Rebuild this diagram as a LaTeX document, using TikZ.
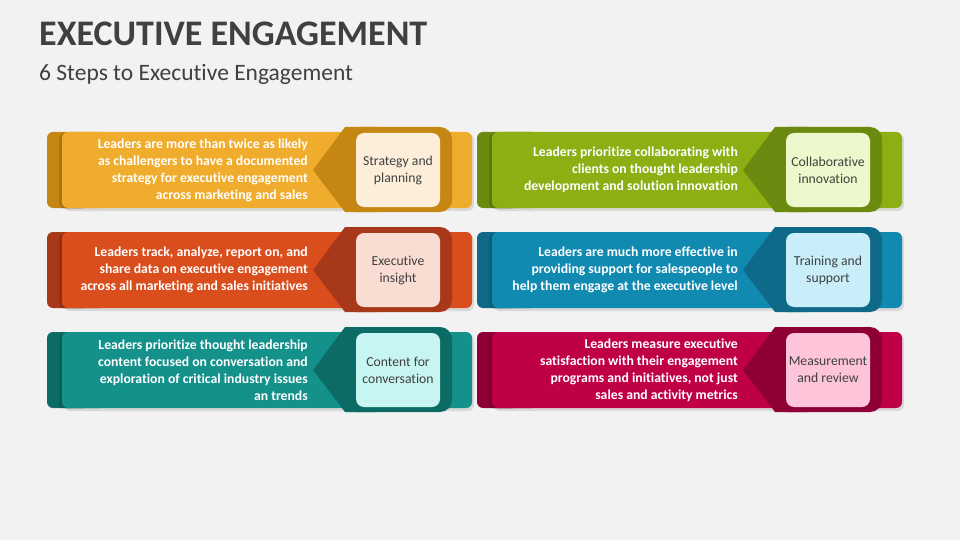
\documentclass[tikz,border=0pt]{standalone}
\usepackage{fontspec}
\setmainfont{Carlito}[RawFeature={-liga}]

\definecolor{pageback}{HTML}{F2F2F2}
\definecolor{titlegray}{HTML}{404040}
\definecolor{orangemain}{HTML}{F0AC2C}
\definecolor{orangedark}{HTML}{C58613}
\definecolor{orangelight}{HTML}{FDEEDA}
\definecolor{greenmain}{HTML}{8CB014}
\definecolor{greendark}{HTML}{6B8A10}
\definecolor{greenlight}{HTML}{EDF8CC}
\definecolor{redmain}{HTML}{DA4D1C}
\definecolor{reddark}{HTML}{A8381A}
\definecolor{redlight}{HTML}{F9DCD2}
\definecolor{bluemain}{HTML}{118AB2}
\definecolor{bluedark}{HTML}{0E6A88}
\definecolor{bluelight}{HTML}{C9EEFA}
\definecolor{tealmain}{HTML}{13918A}
\definecolor{tealdark}{HTML}{0D6B66}
\definecolor{teallight}{HTML}{C7F6F2}
\definecolor{crimsonmain}{HTML}{C00046}
\definecolor{crimsondark}{HTML}{8E0035}
\definecolor{crimsonlight}{HTML}{FDC4DA}

\tikzset{
  desc/.style={anchor=east,align=right,text=white,inner sep=0pt,
    font=\fontsize{13.7}{17}\selectfont\bfseries},
  labelbox/.style={rounded corners=8pt,minimum width=84pt,minimum height=74pt,
    inner sep=0pt,align=center,text=titlegray,font=\fontsize{13.7}{17}\selectfont},
}

% one step: name, x, y, main, dark, light, text, label
\newcommand{\engpanel}[8]{%
\begin{scope}[shift={(#2,#3)}]
% shadow
\fill[black,opacity=0.10,rounded corners=6pt] (17,2) rectangle (427,79);
% back strip and main band
\fill[#5,rounded corners=6pt] (0,0) rectangle (60,76);
\fill[black,opacity=0.12,rounded corners=6pt] (12,1) rectangle (40,77);
\fill[#4,rounded corners=6pt] (15,0) rectangle (425,76);
% dark pointer
\fill[#5,rounded corners=12pt] (298,-5) rectangle (405,80);
\fill[#5] (266,38) -- (298,-5) -- (330,-5) -- (330,80) -- (298,80) -- cycle;
\node[labelbox,fill=#6] (#1) at (351,38) {#8};
\node[desc] (#1-text) at (261,38) {#7};
\end{scope}}

\begin{document}
\begin{tikzpicture}[x=1pt,y=-1pt]
\fill[pageback] (0,0) rectangle (960,540);
\useasboundingbox (0,0) rectangle (960,540);
% ================= title =================
\node[anchor=base west,inner sep=0pt,text=titlegray,font=\fontsize{36}{42}\selectfont\bfseries]
  (title) at (39,46) {EXECUTIVE ENGAGEMENT};
\node[anchor=base west,inner sep=0pt,text=titlegray,font=\fontsize{23.5}{28}\selectfont]
  (subtitle) at (39,81) {6 Steps to Executive Engagement};
% ================= left column =================
\engpanel{strategy}{47}{132}{orangemain}{orangedark}{orangelight}
  {Leaders are more than twice as likely\\as challengers to have a documented\\strategy for executive engagement\\across marketing and sales}
  {Strategy and\\planning}
\engpanel{insight}{47}{232}{redmain}{reddark}{redlight}
  {Leaders track, analyze, report on, and\\share data on executive engagement\\across all marketing and sales initiatives}
  {Executive\\insight}
\engpanel{content}{47}{332}{tealmain}{tealdark}{teallight}
  {Leaders prioritize thought leadership\\content focused on conversation and\\exploration of critical industry issues\\an trends}
  {Content for\\conversation}
% ================= right column =================
\engpanel{collab}{477}{132}{greenmain}{greendark}{greenlight}
  {Leaders prioritize collaborating with\\clients on thought leadership\\development and solution innovation}
  {Collaborative\\innovation}
\engpanel{training}{477}{232}{bluemain}{bluedark}{bluelight}
  {Leaders are much more effective in\\providing support for salespeople to\\help them engage at the executive level}
  {Training and\\support}
\engpanel{measure}{477}{332}{crimsonmain}{crimsondark}{crimsonlight}
  {Leaders measure executive\\satisfaction with their engagement\\programs and initiatives, not just\\sales and activity metrics}
  {Measurement\\and review}
\end{tikzpicture}
\end{document}
